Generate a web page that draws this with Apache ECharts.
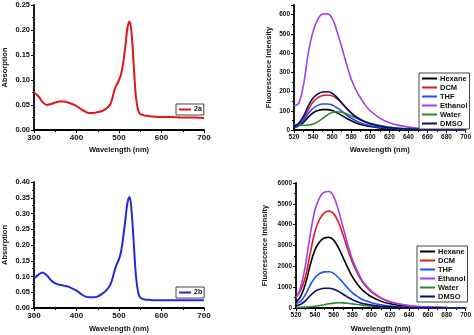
<!DOCTYPE html>
<html>
<head>
<meta charset="utf-8">
<script src="https://cdn.jsdelivr.net/npm/echarts@6/dist/echarts.min.js"></script>
<style>
  html, body { margin: 0; padding: 0; background: #fff; }
  #chart { width: 474px; height: 335px; }
</style>
</head>
<body>
<div id="chart"></div>
<script>
// absorption spectra (2a, 2b)
const absWl = [300, 310, 320, 330, 340, 350, 360, 370, 380, 390, 400, 410, 420, 430, 440, 450, 460, 470, 480, 490,
  495, 500, 505, 510, 515, 520, 525, 530, 535, 540, 545, 550, 560, 570, 580, 600, 620, 650, 680, 700];
const abs2a = [0.075, 0.068, 0.056, 0.050, 0.052, 0.055, 0.057, 0.057, 0.055, 0.052, 0.048, 0.042, 0.037, 0.034, 0.034, 0.036, 0.038, 0.043, 0.052, 0.082,
  0.091, 0.100, 0.112, 0.135, 0.168, 0.205, 0.217, 0.190, 0.125, 0.065, 0.040, 0.032, 0.029, 0.028, 0.027, 0.026, 0.026, 0.025, 0.025, 0.024];
const abs2b = [0.094, 0.105, 0.113, 0.104, 0.088, 0.078, 0.074, 0.071, 0.068, 0.062, 0.055, 0.045, 0.037, 0.034, 0.034, 0.037, 0.045, 0.056, 0.075, 0.120,
  0.140, 0.155, 0.180, 0.225, 0.280, 0.335, 0.352, 0.300, 0.200, 0.100, 0.050, 0.033, 0.027, 0.026, 0.025, 0.025, 0.025, 0.025, 0.025, 0.025];

// fluorescence spectra
const solvents = ['Hexane', 'DCM', 'THF', 'Ethanol', 'Water', 'DMSO'];
const solventColors = ['#000000', '#e01b1b', '#1f4cff', '#a040f0', '#2e8b2e', '#0a0a70'];
const flWl = [520, 525, 530, 535, 540, 545, 550, 555, 560, 565, 570, 575, 580, 585, 590, 595, 600, 610, 620, 630, 640, 650, 660, 680, 700];

// top right (2a)
const flA_Hexane = [12, 22, 40, 67, 89, 101, 106, 106, 101, 90, 76, 61, 48, 37, 29, 23, 18, 11, 7, 4, 3, 2, 1, 0, 0];
const flA_DCM = [14, 30, 60, 105, 145, 168, 179, 182, 178, 163, 140, 114, 90, 70, 55, 43, 34, 21, 13, 8, 5, 3, 2, 1, 0];
const flA_THF = [14, 26, 50, 85, 113, 128, 135, 135, 130, 116, 98, 78, 61, 48, 37, 29, 23, 14, 9, 6, 3, 2, 1, 0, 0];
const flA_Ethanol = [125, 140, 235, 400, 512, 575, 603, 604, 582, 515, 432, 345, 265, 208, 165, 128, 100, 62, 38, 24, 15, 9, 5, 2, 1];
const flA_Water = [30, 27, 25, 26, 30, 42, 60, 78, 91, 95, 92, 84, 73, 62, 52, 43, 35, 23, 15, 9, 6, 4, 2, 1, 0];
const flA_DMSO = [15, 35, 72, 125, 166, 188, 198, 199, 191, 170, 142, 113, 88, 68, 53, 41, 32, 20, 12, 8, 5, 3, 2, 1, 0];

// bottom right (2b)
const flB_Hexane = [280, 560, 1150, 2050, 2780, 3170, 3360, 3390, 3260, 2900, 2420, 1930, 1490, 1150, 880, 690, 540, 330, 200, 125, 75, 46, 28, 11, 4];
const flB_DCM = [500, 850, 1500, 2600, 3650, 4250, 4570, 4650, 4530, 4130, 3500, 2810, 2170, 1680, 1280, 1000, 780, 480, 290, 180, 110, 68, 40, 16, 5];
const flB_THF = [220, 330, 640, 1090, 1450, 1650, 1735, 1740, 1665, 1465, 1210, 955, 725, 560, 420, 330, 255, 155, 95, 60, 36, 22, 13, 5, 2];
const flB_Ethanol = [480, 1000, 2050, 3500, 4680, 5290, 5560, 5590, 5350, 4700, 3870, 3040, 2310, 1790, 1340, 1050, 815, 500, 300, 190, 115, 70, 42, 17, 6];
const flB_Water = [30, 35, 45, 60, 85, 120, 160, 200, 235, 250, 245, 227, 198, 168, 140, 115, 94, 61, 38, 23, 14, 8, 5, 2, 1];
const flB_DMSO = [110, 180, 340, 590, 790, 895, 945, 948, 905, 800, 660, 520, 395, 305, 230, 180, 140, 86, 52, 33, 20, 12, 7, 3, 1];

const flA = [flA_Hexane, flA_DCM, flA_THF, flA_Ethanol, flA_Water, flA_DMSO];
const flB = [flB_Hexane, flB_DCM, flB_THF, flB_Ethanol, flB_Water, flB_DMSO];

const FONT = "'Liberation Sans', Arial, sans-serif";
const zip = (xs, ys) => xs.map((x, i) => [x, ys[i]]);

const makeX = (idx, min, max, interval, fs, nameGap) => ({
  type: 'value', gridIndex: idx, min, max, interval,
  name: 'Wavelength (nm)', nameLocation: 'middle', nameGap,
  nameTextStyle: { fontFamily: FONT, fontWeight: 'bold', fontSize: 7.5, color: '#111' },
  axisLine: { show: true, onZero: false, lineStyle: { color: '#000', width: 1.8 } },
  axisTick: { show: true, length: 3, lineStyle: { color: '#000', width: 1 } },
  minorTick: { show: true, splitNumber: 2, length: 2, lineStyle: { color: '#000', width: 1 } },
  splitLine: { show: false },
  axisLabel: { fontFamily: FONT, fontWeight: 'bold', fontSize: fs, color: '#111', margin: 4 }
});

const makeY = (idx, name, min, max, interval, fs, nameGap, fmt) => ({
  type: 'value', gridIndex: idx, min, max, interval,
  name, nameLocation: 'middle', nameGap,
  nameTextStyle: { fontFamily: FONT, fontWeight: 'bold', fontSize: 7.5, color: '#111' },
  axisLine: { show: true, lineStyle: { color: '#000', width: 1.8 } },
  axisTick: { show: true, length: 3, lineStyle: { color: '#000', width: 1 } },
  minorTick: { show: true, splitNumber: 2, length: 2, lineStyle: { color: '#000', width: 1 } },
  splitLine: { show: false },
  axisLabel: { fontFamily: FONT, fontWeight: 'bold', fontSize: fs, color: '#111', margin: 4,
    formatter: fmt, showMaxLabel: max !== 650 }
});

const makeLegend = (names, left, top, fs, iw) => ({
  data: names, left, top, orient: 'vertical',
  itemWidth: iw, itemHeight: 2, itemGap: 0, icon: 'rect',
  padding: [1, 2, 1, 3], borderColor: '#444', borderWidth: 1, backgroundColor: '#fff',
  textStyle: { fontFamily: FONT, fontWeight: 'bold', fontSize: fs, color: '#111', lineHeight: 9, padding: [0, 0, 0, -2] },
  selectedMode: false
});

const lineSeries = (name, data, color, xi, yi, w) => ({
  name, type: 'line', data, xAxisIndex: xi, yAxisIndex: yi,
  smooth: 0.35, showSymbol: false, symbol: 'none',
  lineStyle: { color, width: w }, itemStyle: { color }
});

const series = [
  lineSeries('2a', zip(absWl, abs2a), '#e0141e', 0, 0, 2),
  lineSeries('2b', zip(absWl, abs2b), '#2428d8', 2, 2, 2)
];
solvents.forEach((s, i) => {
  series.push(lineSeries(s, zip(flWl, flA[i]), solventColors[i], 1, 1, 1.6));
});
solvents.forEach((s, i) => {
  series.push(lineSeries(s, zip(flWl, flB[i]), solventColors[i], 3, 3, 1.6));
});

const plain = v => String(v);

const chart = echarts.init(document.getElementById('chart'));
chart.setOption({
  animation: false,
  backgroundColor: '#fff',
  grid: [
    { left: 34, top: 5, width: 170, height: 125 },
    { left: 294, top: 5, width: 172, height: 125 },
    { left: 34, top: 182, width: 170, height: 126 },
    { left: 296, top: 183, width: 170, height: 125 }
  ],
  xAxis: [
    makeX(0, 300, 700, 100, 8, 16),
    makeX(1, 520, 700, 20, 6.5, 16),
    makeX(2, 300, 700, 100, 8, 17),
    makeX(3, 520, 700, 20, 6.5, 17)
  ],
  yAxis: [
    makeY(0, 'Absorption', 0, 0.25, 0.05, 7.5, 25, v => v.toFixed(2)),
    makeY(1, 'Fluorescence Intensity', 0, 650, 100, 6.5, 21, plain),
    makeY(2, 'Absorption', 0, 0.40, 0.05, 7.5, 25, v => v.toFixed(2)),
    makeY(3, 'Fluorescence Intensity', 0, 6000, 1000, 6.5, 27, plain)
  ],
  legend: [
    makeLegend(['2a'], 176, 104, 7, 12),
    makeLegend(solvents, 419, 73, 7.5, 15),
    makeLegend(['2b'], 176, 287, 7, 12),
    makeLegend(solvents, 417, 246, 7.5, 15)
  ],
  series
});
</script>
</body>
</html>
